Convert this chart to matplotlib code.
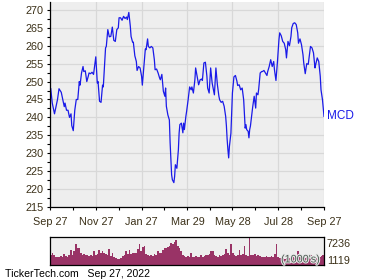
import numpy as np
import matplotlib
matplotlib.use("Agg")
import matplotlib.pyplot as plt
import matplotlib.patheffects as pe
from datetime import datetime, timedelta

plt.rcParams['font.family'] = ['Liberation Sans', 'DejaVu Sans']

start = datetime(2021, 9, 27)
end = datetime(2022, 9, 27)

# closing price (days after Sep 27 2021, price)
days = [1, 3, 4, 6, 8, 10, 12, 15, 17, 19, 20, 22, 24, 26, 28, 29, 31, 33, 35, 37,
        39, 40, 42, 44, 45, 47, 49, 51, 52, 54, 56, 58, 60, 61, 63, 64, 66, 68, 70, 71,
        74, 75, 77, 79, 81, 83, 85, 87, 89, 91, 92, 94, 96, 98, 100, 102, 103, 105, 107, 108,
        110, 111, 113, 115, 116, 118, 120, 122, 123, 125, 127, 128, 130, 131, 133, 135, 137, 139, 140, 142,
        144, 146, 147, 149, 151, 153, 154, 155, 157, 159, 160, 162, 163, 165, 166, 167, 169, 171, 172, 173,
        175, 177, 178, 179, 181, 182, 184, 186, 188, 189, 191, 193, 194, 196, 198, 200, 202, 203, 205, 207,
        209, 210, 212, 214, 216, 218, 219, 221, 223, 225, 226, 228, 230, 232, 234, 235, 236, 237, 238, 239,
        241, 242, 243, 245, 247, 249, 250, 252, 254, 256, 258, 259, 260, 261, 262, 264, 265, 266, 267, 269,
        270, 272, 274, 275, 277, 278, 280, 282, 283, 285, 287, 289, 290, 292, 294, 296, 298, 299, 301, 303,
        305, 306, 308, 310, 312, 314, 315, 317, 319, 321, 322, 324, 326, 328, 330, 331, 333, 335, 337, 338,
        340, 342, 344, 346, 347, 349, 351, 353, 354, 356, 358, 360, 361, 363, 365]
price = [248.0, 244.0, 243.0, 241.0, 243.0, 245.0, 248.0, 247.0, 245.0, 243.0, 244.0, 242.0, 242.0, 240.0, 241.0, 237.7, 236.3, 242.0, 245.0, 245.0,
         250.0, 249.0, 252.4, 254.2, 252.8, 253.0, 250.0, 251.5, 252.4, 252.2, 252.6, 252.0, 255.2, 256.9, 249.6, 250.0, 244.5, 244.2, 249.0, 248.5,
         259.4, 259.8, 264.5, 262.5, 262.6, 265.2, 261.5, 261.2, 264.5, 265.0, 267.8, 267.8, 267.1, 268.2, 267.6, 268.0, 267.3, 269.3, 265.4, 262.6,
         261.0, 261.0, 257.2, 255.6, 253.1, 254.2, 253.8, 251.5, 249.0, 254.2, 259.1, 258.9, 261.9, 259.8, 259.4, 259.8, 259.4, 256.1, 253.3, 253.5,
         252.4, 251.0, 250.5, 252.0, 247.3, 245.9, 248.2, 243.1, 240.7, 239.3, 233.0, 224.0, 222.6, 221.8, 223.5, 226.8, 225.8, 230.9, 235.6, 238.0,
         238.4, 235.7, 238.4, 236.6, 240.3, 241.7, 244.9, 248.5, 247.7, 248.5, 246.8, 250.5, 253.8, 251.5, 249.1, 250.5, 250.7, 250.3, 255.2, 255.4,
         251.5, 248.2, 246.8, 253.8, 249.6, 247.3, 246.3, 253.8, 249.1, 245.9, 244.9, 244.2, 244.5, 243.1, 240.3, 237.6, 233.8, 231.0, 228.7, 231.9,
         235.6, 241.2, 246.8, 251.3, 251.7, 250.1, 248.9, 249.1, 247.7, 248.2, 244.9, 241.2, 237.0, 238.0, 236.6, 236.1, 234.3, 236.6, 237.6, 241.2,
         242.9, 245.9, 242.6, 246.8, 246.3, 247.9, 252.4, 252.8, 252.8, 253.1, 252.4, 251.7, 252.8, 254.2, 256.1, 254.2, 255.6, 253.3, 250.3, 255.6,
         261.7, 263.6, 262.8, 261.2, 260.7, 258.9, 256.6, 261.2, 260.0, 262.6, 265.0, 266.2, 266.4, 265.9, 263.6, 260.7, 261.9, 260.3, 257.5, 255.2,
         252.2, 255.0, 254.8, 258.0, 259.8, 259.4, 258.0, 253.8, 254.8, 256.6, 255.6, 251.5, 247.7, 244.9, 240.3]

# volume in 1000's, evenly spaced over the year
volume = [2640, 3230, 2640, 1960, 2130, 1960, 2300, 2130, 2810, 2300, 2130, 2470, 3830, 2640, 3490, 5360, 4340, 4510, 3150, 2640,
          2810, 2470, 2640, 2300, 2550, 2300, 3660, 2470, 2810, 3830, 2980, 3490, 2980, 2810, 2470, 4085, 2300, 3230, 2130, 1790,
          1620, 1450, 1790, 2300, 2640, 3660, 2810, 3830, 2810, 2980, 3150, 3230, 4085, 5360, 3660, 4680, 4940, 2810, 2470, 2300,
          2640, 2300, 2810, 2640, 3660, 2980, 3150, 3830, 4340, 4510, 4680, 4940, 5790, 5360, 6040, 6380, 4940, 4510, 3490, 2640,
          2300, 2130, 2300, 1960, 3230, 2130, 1960, 2300, 1960, 2130, 2470, 1960, 2300, 2640, 2470, 2810, 3490, 3660, 2640, 2300,
          2130, 2470, 2300, 2640, 2810, 4085, 2980, 2640, 5360, 3150, 2640, 2300, 2640, 3830, 2470, 2810, 4940, 2640, 2300, 7236,
          2640, 2470, 2810, 2300, 2640, 2300, 2130, 1960, 2130, 2300, 1960, 2130, 2300, 1960, 2810, 5360, 2130, 1790, 1960, 1790,
          1620, 1790, 1960, 1790, 1960, 2130, 1790, 2300, 3660, 2130, 1960, 2300, 1790, 1960, 2130, 1790, 2640, 1960, 2300, 1790,
          1960, 2130, 2300, 2470]

tick_labels = ["Sep 27", "Nov 27", "Jan 27", "Mar 29", "May 28", "Jul 28", "Sep 27"]
tick_dates = [datetime(2021, 9, 27), datetime(2021, 11, 27), datetime(2022, 1, 27), datetime(2022, 3, 29),
              datetime(2022, 5, 28), datetime(2022, 7, 28), datetime(2022, 9, 27)]

txt = '#3b3018'
bg = '#eeeeee'
gridc = '#d8d8d8'
blue = '#1a1ae8'

fig = plt.figure(figsize=(3.8, 2.8), dpi=100)
ax = fig.add_axes([50/380, 1-207/280, 274/380, 205/280])
ax.set_facecolor(bg)

x = [start + timedelta(days=d) for d in days]
ax.plot(x, price, color=blue, lw=0.9)
ax.text(x[-1] + timedelta(days=4), price[-1], "MCD", color=blue, fontsize=8.5, va='center', ha='left')

ax.set_xlim(start, end)
ax.set_ylim(215, 272.2)
ax.set_yticks(np.arange(215, 271, 5))
ax.set_yticks(np.arange(217.5, 271, 5), minor=True)
ax.set_xticks(tick_dates)
ax.set_xticklabels(tick_labels)
mids = [tick_dates[i] + (tick_dates[i+1] - tick_dates[i]) / 2 for i in range(len(tick_dates) - 1)]
ax.set_xticks(mids, minor=True)
ax.tick_params(axis='both', which='both', colors='black', labelcolor=txt, labelsize=7.8, length=2.5, width=0.8, pad=2)
ax.tick_params(axis='x', pad=5)
ax.grid(True, which='major', color=gridc, lw=0.9)
ax.set_axisbelow(True)
for s in ['top', 'right']:
    ax.spines[s].set_visible(False)
ax.spines['left'].set_linewidth(0.9)
ax.spines['bottom'].set_linewidth(0.9)

# volume panel
vx = start + (end - start) * (np.arange(len(volume)) + 0.5) / len(volume)
bw = (end - start).days / len(volume)
vax = fig.add_axes([50/380, 1-265/280, 274/380, 28/280])
vax.set_facecolor(bg)
vax.bar(vx, volume, width=bw, color='#993366', linewidth=0)
vax.set_xlim(start, end)
vax.set_ylim(0, 7236)
vax.set_xticks([])
vax.set_yticks([])
for s in vax.spines.values():
    s.set_linewidth(0.9)
vax.text(1.01, 0.76, "7236", transform=vax.transAxes, color=txt, fontsize=7.8, va='center', ha='left')
vax.text(1.01, 0.16, "1119", transform=vax.transAxes, color=txt, fontsize=7.8, va='center', ha='left')
vax.text(0.985, 0.2, "(1000's)", transform=vax.transAxes, color='#4a5a50', fontsize=7.8, va='center', ha='right',
         path_effects=[pe.withStroke(linewidth=1.5, foreground='#e8e8e8')])

fig.text(5/380, 1-274/280, "TickerTech.com   Sep 27, 2022", color='black', fontsize=7.6, va='center', ha='left')

fig.savefig("out.png", dpi=100)
